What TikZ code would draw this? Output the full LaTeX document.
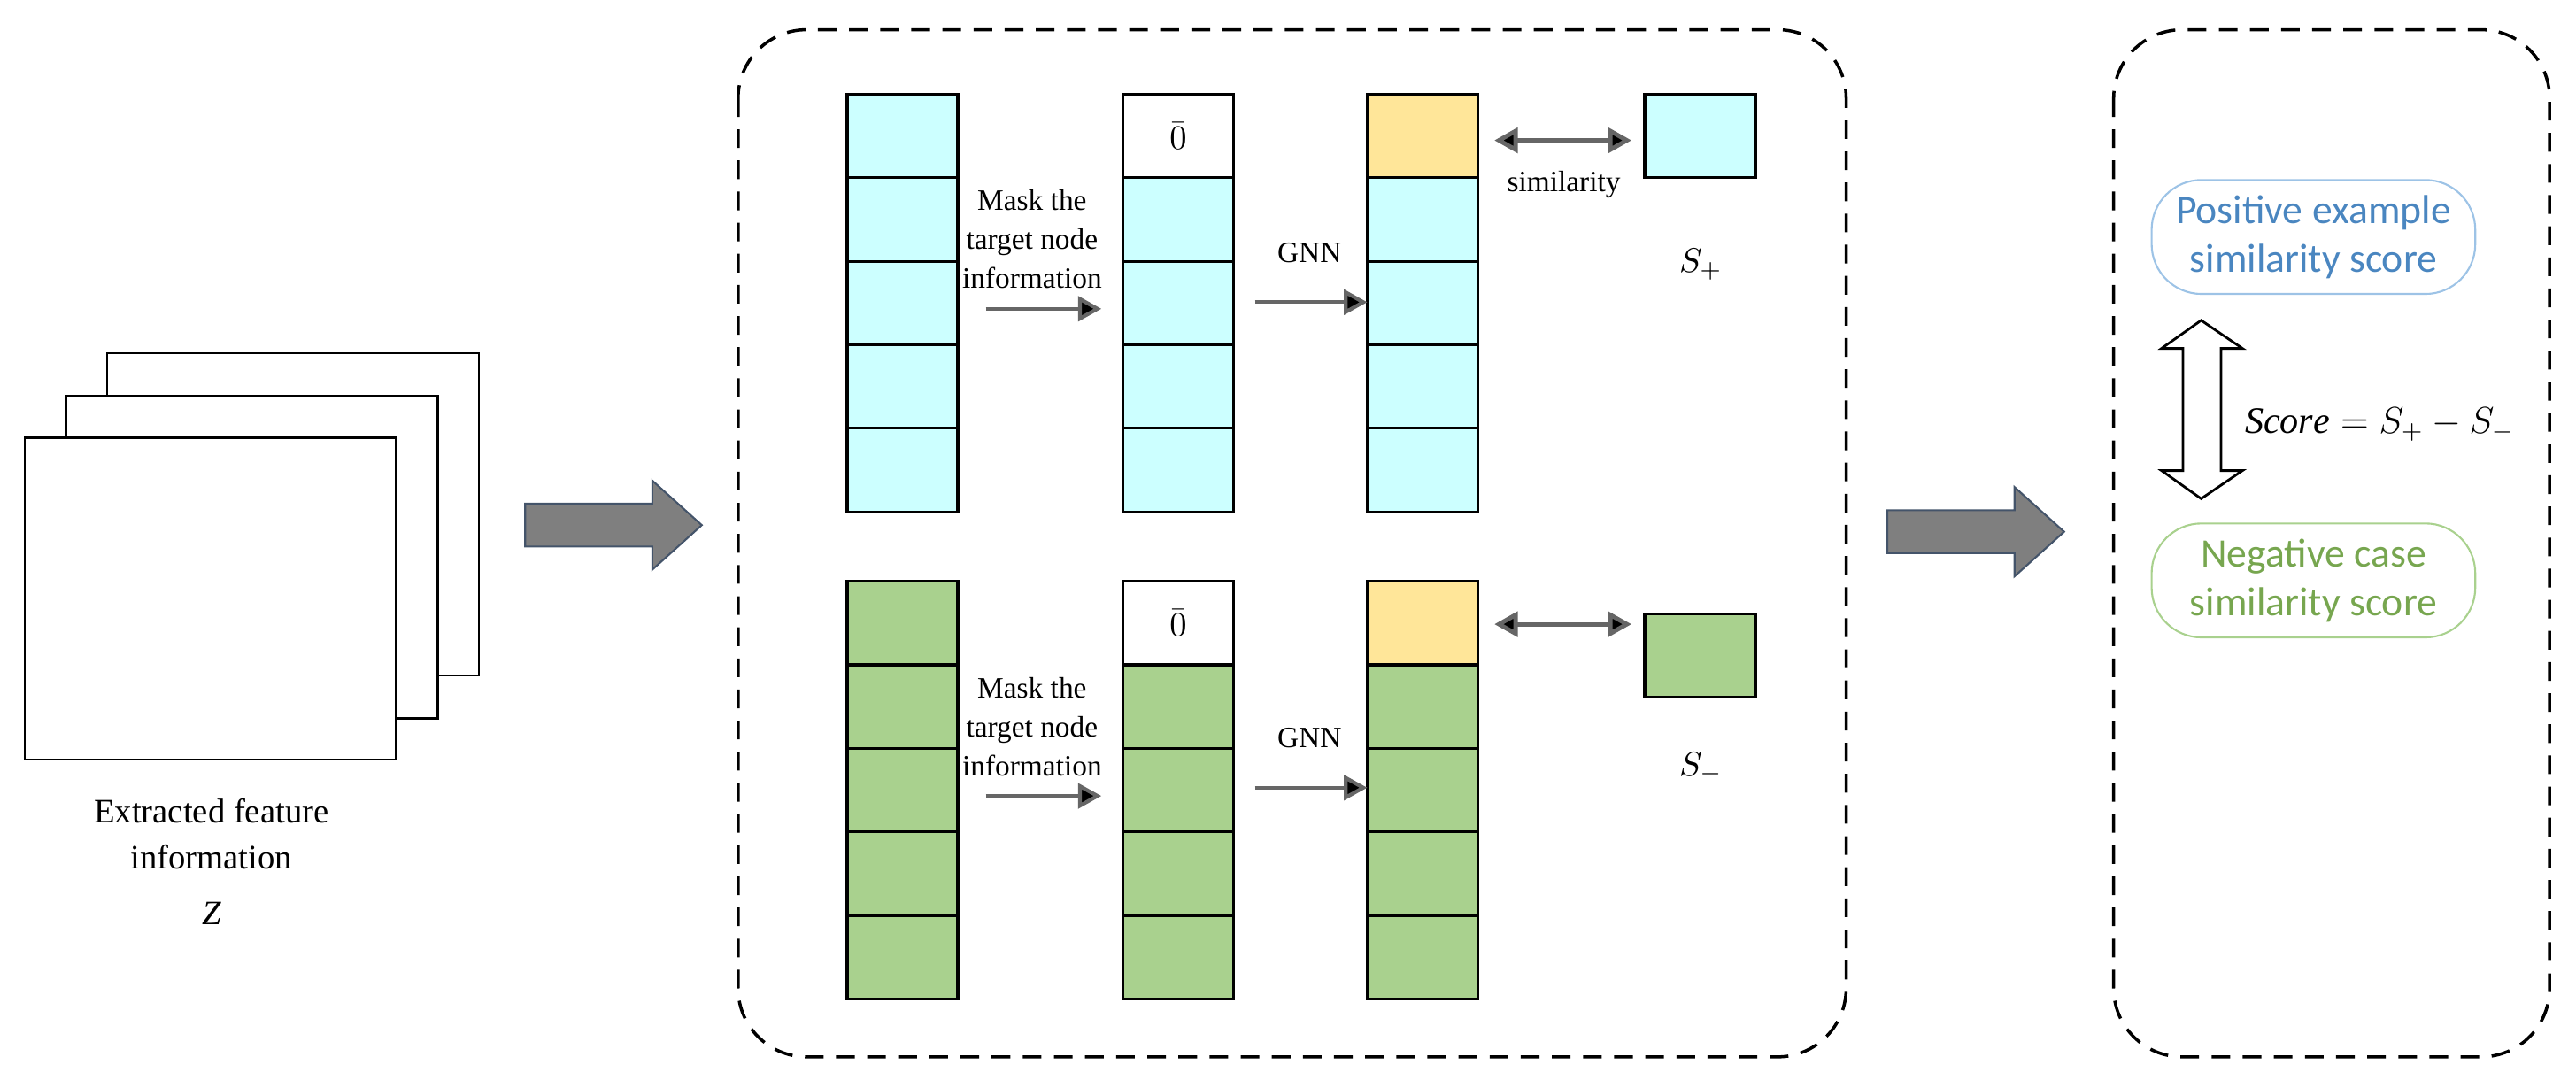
\documentclass[tikz,border=0pt]{standalone}
\usepackage{fontspec}
\setmainfont{Liberation Serif}
\newfontfamily\carlitofont{Carlito}
\usetikzlibrary{arrows.meta}
\definecolor{cy}{HTML}{CCFFFF}
\definecolor{gr}{HTML}{A9D18E}
\definecolor{ye}{HTML}{FFE699}
\definecolor{posb}{HTML}{9DC3E6}
\definecolor{post}{HTML}{4A86C0}
\definecolor{negb}{HTML}{A9D18E}
\definecolor{negt}{HTML}{77A64F}
\definecolor{bigf}{HTML}{7F7F7F}
\definecolor{bigd}{HTML}{44546A}
\begin{document}
\begin{tikzpicture}[x=0.01865cm,y=-0.01865cm,
  cell/.style={draw=black,line width=0.9pt,minimum width={67*0.01865cm},minimum height={50.6*0.01865cm},inner sep=0pt,outer sep=0pt},
  page/.style={draw=black,fill=white,line width=0.7pt,minimum width={225*0.01865cm},minimum height={195*0.01865cm},inner sep=0pt},
  dbox/.style={draw=black,line width=1pt,dash pattern=on 6pt off 4pt,rounded corners=22pt},
  arr/.style={line width=1.2pt,draw=black!60,arrows={-{Triangle[length=7.5pt,width=8pt,fill=black]}}},
  darr/.style={line width=1.4pt,draw=black!60,arrows={{Triangle[length=7.5pt,width=8pt,fill=black]}-{Triangle[length=7.5pt,width=8pt,fill=black]}}},
  lbl/.style={font=\fontsize{9.5}{12.5}\selectfont,align=center,inner sep=0pt},
  big/.style={fill=bigf,draw=bigd,line width=0.6pt},
  sbox/.style={rounded corners=16pt,line width=0.6pt,minimum width={196*0.01865cm},minimum height={69*0.01865cm},align=center,font=\carlitofont\fontsize{13}{15.5}\selectfont}
]
\useasboundingbox (0,0) rectangle (1560,654);
% pages
\node[page] (p3) at (177.5,311.5) {};
\node[page] (p2) at (152.5,337.5) {};
\node[page] (p1) at (127.5,362.5) {};
\node[font=\fontsize{11}{15}\selectfont,align=center] (ext) at (128,505) {Extracted feature\\information};
\node[font=\fontsize{11}{13}\selectfont\itshape] (z) at (128,553) {Z};
% big arrows
\draw[big] (318,305) -- (395,305) -- (395,291) -- (425,318) -- (395,345) -- (395,331) -- (318,331) -- cycle;
\draw[big] (1143,309) -- (1220,309) -- (1220,295) -- (1250,322) -- (1220,349) -- (1220,335) -- (1143,335) -- cycle;
% dashed containers
\draw[dbox] (447,18) rectangle (1118,640);
\draw[dbox] (1280,18) rectangle (1544,640);
% columns
\foreach \i in {0,...,4}{
  \node[cell,fill=cy] (a\i) at (546.5,{82.3+50.6*\i}) {};
  \node[cell,fill=cy] (b\i) at (713.5,{82.3+50.6*\i}) {};
  \node[cell,fill=cy] (c\i) at (861.5,{82.3+50.6*\i}) {};
  \node[cell,fill=gr] (d\i) at (546.5,{377.3+50.6*\i}) {};
  \node[cell,fill=gr] (e\i) at (713.5,{377.3+50.6*\i}) {};
  \node[cell,fill=gr] (f\i) at (861.5,{377.3+50.6*\i}) {};
}
\node[cell,fill=white,font=\fontsize{11}{13}\selectfont] (b0) at (713.5,82.3) {$\bar{0}$};
\node[cell,fill=ye] (c0) at (861.5,82.3) {};
\node[cell,fill=white,font=\fontsize{11}{13}\selectfont] (e0) at (713.5,377.3) {$\bar{0}$};
\node[cell,fill=ye] (f0) at (861.5,377.3) {};
\node[cell,fill=cy] (sp) at (1029.5,82.3) {};
\node[cell,fill=gr] (sm) at (1029.5,397) {};
\node[font=\fontsize{11}{13}\selectfont] (spl) at (1030,160) {$S_{+}$};
\node[font=\fontsize{11}{13}\selectfont] (sml) at (1030,465) {$S_{-}$};
% top row labels and arrows
\node[lbl] (m1) at (625,145) {Mask the\\target node\\information};
\coordinate (m1s) at (597,187); \coordinate (m1e) at (667,187);
\draw[arr] (m1s) -- (m1e);
\node[lbl] (g1) at (793,153) {GNN};
\coordinate (g1s) at (760,183);
\draw[arr] (g1s) -- (c2.west |- g1s);
\coordinate (s1a) at (905,85); \coordinate (s1b) at (988,85);
\draw[darr] (s1a) -- (s1b);
\node[lbl] (sim) at (947,112) {similarity};
% bottom row
\node[lbl] (m2) at (625,440) {Mask the\\target node\\information};
\coordinate (m2s) at (597,482); \coordinate (m2e) at (667,482);
\draw[arr] (m2s) -- (m2e);
\node[lbl] (g2) at (793,447) {GNN};
\coordinate (g2s) at (760,477);
\draw[arr] (g2s) -- (f2.west |- g2s);
\coordinate (s2a) at (905,378); \coordinate (s2b) at (988,378);
\draw[darr] (s2a) -- (s2b);
% right panel
\node[sbox,draw=posb,text=post] (pos) at (1401,143.5) {Positive example\\similarity score};
\node[sbox,draw=negb,text=negt] (neg) at (1401,351.5) {Negative case\\similarity score};
\draw[line width=0.8pt,fill=white] (1333,194) -- (1358,211) -- (1345,211) -- (1345,285) -- (1358,285) -- (1333,302) -- (1309,285) -- (1322,285) -- (1322,211) -- (1309,211) -- cycle;
\node[font=\fontsize{12}{14}\selectfont] (score) at (1441,257) {$\mathit{Score}=S_{+}-S_{-}$};
\end{tikzpicture}
\end{document}
